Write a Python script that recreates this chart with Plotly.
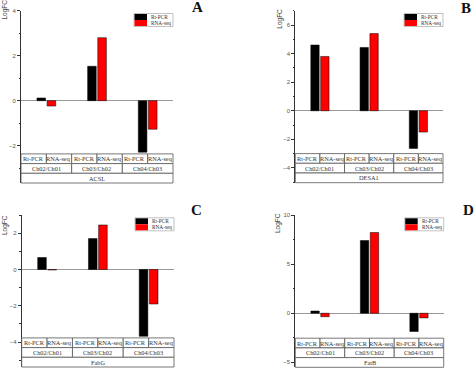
import plotly.graph_objects as go

W, H = 474, 368

groups = ["Ch02/Ch01", "Ch03/Ch02", "Ch04/Ch03"]
methods = ["Rt-PCR", "RNA-seq"]
genes = ["ACSL", "DESA1", "FabG", "FatB"]
letters = ["A", "B", "C", "D"]

acsl_rt = [0.12, 1.53, -2.29]
acsl_rna = [-0.24, 2.80, -1.27]
desa1_rt = [4.60, 4.43, -2.63]
desa1_rna = [3.80, 5.40, -1.49]
fabg_rt = [0.66, 1.70, -3.68]
fabg_rna = [-0.03, 2.45, -1.90]
fatb_rt = [0.23, 7.40, -1.85]
fatb_rna = [-0.35, 8.22, -0.47]

series = [(acsl_rt, acsl_rna), (desa1_rt, desa1_rna), (fabg_rt, fabg_rna), (fatb_rt, fatb_rna)]
colors = ["#000000", "#ff0000"]

# panel geometry in screen pixels
panels = [
    dict(x0=21, x1=173, yt=10.7, yb=183, rng=[-3.66, 4], dt=2, title=(5, 9.5), letter=(197, 7)),
    dict(x0=295.3, x1=443, yt=10.7, yb=182.7, rng=[-5.03, 7], dt=2, title=(279.7, 19), letter=(466, 8)),
    dict(x0=21.7, x1=174, yt=215, yb=367, rng=[-5.37, 3], dt=2, title=(5, 225), letter=(196, 210)),
    dict(x0=295.3, x1=443.7, yt=215, yb=367.3, rng=[-5.5, 10], dt=5, title=(278, 223), letter=(468, 210)),
]

def px(x):
    return x / W

def py(y):
    return 1 - y / H

fig = go.Figure()
shapes = []
annos = []
serif = "Liberation Serif"
sans = "Liberation Sans"
rh = 9.7

for i, p in enumerate(panels):
    n = "" if i == 0 else str(i + 1)
    xa, ya = "x" + n, "y" + n
    for j, vals in enumerate(series[i]):
        fig.add_trace(go.Bar(
            x=groups, y=vals, name=methods[j], xaxis=xa, yaxis=ya,
            marker=dict(color=colors[j], line=dict(color="#000000", width=0.5)),
            showlegend=False,
        ))
    fig.layout["xaxis" + n] = dict(
        domain=[px(p["x0"]), px(p["x1"])], anchor=ya, range=[-0.5, 2.5],
        visible=False, fixedrange=True,
    )
    fig.layout["yaxis" + n] = dict(
        domain=[py(p["yb"]), py(p["yt"])], anchor=xa, range=p["rng"],
        dtick=p["dt"], showline=True, linecolor="#333333", linewidth=1,
        ticks="outside", ticklen=3, tickwidth=1, tickcolor="#333333",
        tickfont=dict(size=6, family=sans, color="#555555"),
        minor=dict(dtick=p["dt"] / 2, ticks="outside", ticklen=1.5, tickcolor="#333333"),
        showgrid=False, zeroline=True, zerolinecolor="#999999", zerolinewidth=1,
        automargin=False,
    )
    dom = xa + " domain"
    # table rows
    top = p["yb"] - 3 * rh
    rows = [
        ([methods[k % 2] for k in range(2 * len(groups))], top, top + rh),
        (groups, top + rh, top + 2 * rh),
        ([genes[i]], top + 2 * rh, p["yb"]),
    ]
    for labels, r0, r1 in rows:
        m = len(labels)
        for k, lab in enumerate(labels):
            shapes.append(dict(type="rect", xref=dom, yref="paper",
                               x0=k / m, x1=(k + 1) / m, y0=py(r1), y1=py(r0),
                               line=dict(color="#555555", width=0.8), fillcolor="white", layer="above"))
            annos.append(dict(xref=dom, yref="paper", x=(k + 0.5) / m, y=py((r0 + r1) / 2),
                              text=lab, showarrow=False, xanchor="center", yanchor="middle",
                              font=dict(size=6.3, family=serif, color="#333333")))
    # legend
    lx0, lx1 = p["x1"] - 39, p["x1"]
    ly0, ly1 = p["yt"] + 2.8, p["yt"] + 15.8
    lm = (ly0 + ly1) / 2
    shapes.append(dict(type="rect", xref="paper", yref="paper", x0=px(lx0), x1=px(lx1),
                       y0=py(ly1), y1=py(ly0), line=dict(color="#999999", width=0.6), fillcolor="white"))
    for j in range(2):
        a, b = (ly0 + 0.5, lm) if j == 0 else (lm, ly1 - 0.5)
        shapes.append(dict(type="rect", xref="paper", yref="paper", x0=px(lx0 + 0.5), x1=px(lx0 + 13),
                           y0=py(b), y1=py(a), line=dict(width=0), fillcolor=colors[j]))
        annos.append(dict(xref="paper", yref="paper", x=px(lx0 + 15), y=py((a + b) / 2),
                          text=methods[j], showarrow=False, xanchor="left", yanchor="middle",
                          font=dict(size=5.3, family=serif, color="#333333")))
    # axis title
    tx, ty = p["title"]
    annos.append(dict(xref="paper", yref="paper", x=px(tx), y=py(ty), text="LogFC", textangle=-90,
                      showarrow=False, xanchor="center", yanchor="middle",
                      font=dict(size=6.5, family=sans, color="#444444")))
    # panel letter
    lx, lyy = p["letter"]
    annos.append(dict(xref="paper", yref="paper", x=px(lx), y=py(lyy), text="<b>" + letters[i] + "</b>",
                      showarrow=False, xanchor="center", yanchor="middle",
                      font=dict(size=15, family=serif, color="#111111")))

fig.update_layout(
    width=W, height=H, margin=dict(l=0, r=0, t=0, b=0, autoexpand=False),
    paper_bgcolor="white", plot_bgcolor="white",
    barmode="group", bargap=0.6, bargroupgap=0.15,
    shapes=shapes, annotations=annos, showlegend=False,
)

fig.write_html(
    "out.html",
    config={"displayModeBar": False},
    post_script="document.body.style.margin='0';document.body.style.overflow='hidden';",
)
